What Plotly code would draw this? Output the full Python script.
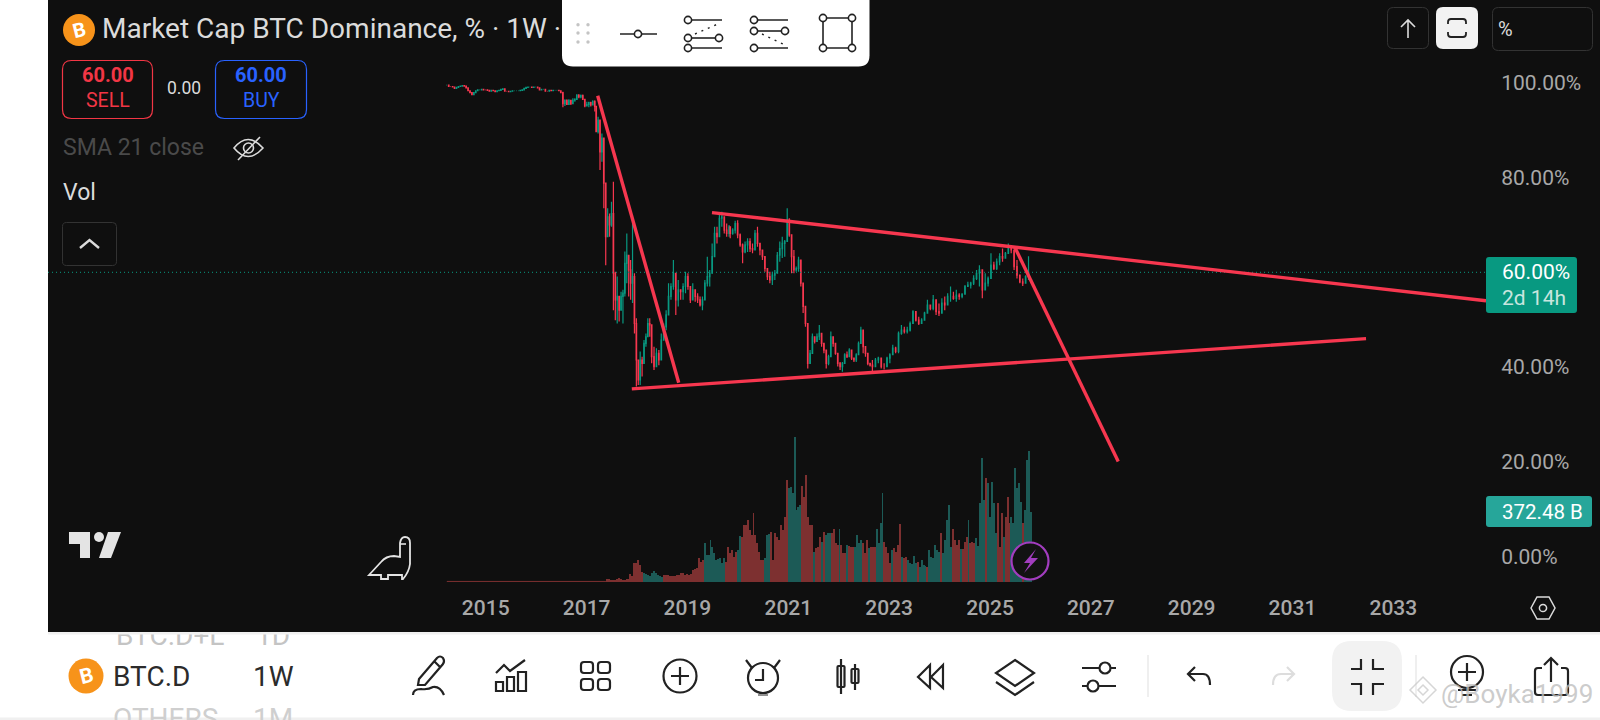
import re
import pandas as pd
import plotly.graph_objects as go

W, H = 1600, 720

# ---------- data ----------
flat_close = [99.5,99.2,99.2,99.1,98.8,99.0,99.2,99.3,99.4,99.3,98.9,98.3,97.9,97.5,97.9,98.3,98.5,98.5,98.6,98.5,
              98.5,98.4,98.2,98.4,98.3,98.1,98.3,98.4,98.6,98.7,98.2,98.2,98.1,98.2,98.3,98.3,98.3,98.3,98.4,98.5,
              98.8,99.0,99.1,99.1,99.0,99.1,99.1,98.9,98.5,98.6,98.6,98.2,98.2,98.4,98.3,98.4,98.4,98.4,98.3,97.9]
flat_span = ("2014-03-25", "2016-06-28")

a2_high = [98.1,96.5,96.5,96.5,96.3,96.7,96.7,97.6,97.6,97.5,97.5,96.2,96.0,96.0,96.0,96.3,96.3]
a2_low = [94.8,95.1,95.4,95.5,95.3,95.6,96.0,96.4,96.7,96.7,96.4,94.8,95.1,94.8,95.0,95.4,93.9]
a2_close = [95.6,96.2,95.4,96.3,95.6,96.3,96.5,97.3,97.0,97.3,96.5,95.1,95.4,95.8,95.3,96.0,95.0]
a2_span = ("2016-07-13", "2017-03-01")

b1_high = [92.8,92.8,90.4,89.3,81.6,78.8,73.5,72.4,74.9,79.1,60.1,59.1,54.9,55.9,56.3,64.4,68.2,63.3,62.6,70.7,
           59.8,50.3,41.5,43.3,42.2,45.7,47.1,50.3,50.3,48.9]
b1_low = [89.7,89.3,81.6,83.3,73.5,61.5,67.5,67.5,69.6,52.0,49.9,49.2,49.6,52.0,49.2,54.9,57.7,54.9,54.2,53.5,
          47.1,35.9,36.2,36.2,38.0,41.5,44.3,47.1,46.4,40.8]
b1_close = [89.7,92.1,85.4,88.3,78.8,67.5,71.7,70.0,72.4,59.8,54.2,54.9,52.0,54.9,55.6,61.9,63.6,60.5,57.7,59.1,
            49.2,41.5,37.3,41.5,40.8,45.0,46.4,49.2,48.9,42.2]
b1_span = ("2017-03-11", "2018-04-17")

b2_high = [44.3,44.0,43.6,47.1,49.2,52.0,57.7,57.7,62.6,57.7,
           58.4,56.3,57.7,60.1,59.8,56.3,57.7,55.9,55.6,54.9,54.9,58.4,63.3,60.5,66.1,69.6,69.6,72.4,72.8,71.4,70.3,70.0]
b2_low = [39.4,40.4,40.4,42.2,45.7,47.8,52.0,54.2,56.3,51.0,
          52.8,54.2,54.2,55.6,56.3,53.5,54.2,53.8,53.5,52.8,52.0,54.9,57.0,57.0,60.5,65.4,66.1,68.9,69.6,68.2,67.5,67.5]
b2_close = [40.1,42.9,41.5,45.7,48.5,51.0,54.9,57.0,59.8,54.2,
            56.3,55.9,57.0,59.1,57.0,54.2,56.3,54.9,54.2,53.1,54.2,57.7,59.1,59.8,63.3,68.2,67.5,71.4,71.7,68.9,68.2,69.6]
b2_span = ("2018-05-04", "2019-10-30")

c1_high = [68.9,69.3,70.9,71.0,68.2,66.1,66.5,67.2,67.2,66.1,68.9,69.6,65.0,64.7,63.0,60.8,60.1,60.1,60.5,64.3,66.5,67.5,66.8,73.5]
c1_low = [67.2,67.9,68.2,67.2,65.4,61.9,64.0,64.3,64.3,64.0,66.1,65.4,63.6,62.6,60.1,58.4,57.7,57.3,58.4,59.8,62.2,63.0,63.3,66.8]
c1_close = [68.2,68.9,70.3,67.9,65.8,64.3,65.8,66.5,65.0,64.7,68.2,66.1,64.7,63.3,60.8,59.1,58.4,59.4,59.8,63.6,65.0,66.1,66.5,71.0]
c1_span = ("2019-11-07", "2020-12-24")

c2_high = [71.4,65.0,64.7,61.2,63.3,62.6,57.0,51.7,48.9,43.6,47.1,46.1,47.1,48.9,46.8,44.3,42.9,42.6,47.5,46.4,
           44.3,42.2,41.1,41.1,42.9,43.3,44.0,42.9,41.9,42.9,45.4,48.5,44.7,43.6,42.6,40.8,41.5]
c2_low = [67.5,59.8,59.8,60.1,60.1,57.0,51.4,48.5,39.7,41.5,44.3,45.0,45.7,45.7,44.3,42.9,39.7,40.4,42.9,44.3,
          42.6,40.1,39.4,39.0,41.1,41.9,42.6,41.5,41.1,41.1,42.6,45.0,42.9,42.2,40.4,40.1,38.8]
c2_close = [67.9,63.3,60.5,60.8,62.6,57.7,52.8,49.2,40.8,42.9,46.4,45.4,46.4,47.1,45.0,43.6,40.8,42.2,46.4,45.0,
            42.9,40.8,40.1,40.8,42.6,42.2,43.6,41.9,41.5,42.6,45.0,47.8,44.3,42.9,40.8,40.4,40.1]
c2_span = ("2021-01-08", "2022-09-02")

c3_high = [41.9,42.2,40.8,40.8,42.2,42.9,44.7,44.3,47.5,48.9,48.5,48.5,49.6,52.0,50.6,50.6,50.3,51.7,54.2,53.1,
           55.2,53.8,53.4,54.5,54.9,55.6,57.0,55.9,56.3,55.6,55.6,57.3,58.0,58.0,59.4,60.5,61.5,58.7,59.8,59.1,
           64.0,62.2,62.9,64.0,65.0,64.3,66.1,65.4,64.7,62.6,59.1,58.7,59.4,63.4]
c3_low = [40.4,40.8,39.7,39.5,40.4,40.8,42.9,42.9,42.9,46.8,47.1,47.1,47.5,49.6,49.6,48.9,49.2,49.9,51.4,52.0,
          52.0,51.0,50.8,51.4,52.0,53.1,53.8,54.2,53.8,54.2,54.5,55.6,57.0,56.6,57.3,58.4,57.0,54.5,56.6,57.0,
          58.7,60.5,60.5,61.5,62.2,63.0,64.0,64.0,60.5,58.7,57.7,57.1,58.0,58.4]
c3_close = [41.5,41.9,40.1,40.1,41.9,42.6,44.0,43.3,47.1,47.8,47.5,47.8,49.2,51.7,49.9,49.2,49.9,51.4,53.1,52.4,
            54.2,51.7,51.4,53.5,53.1,54.9,54.9,54.5,55.2,54.9,55.4,57.0,57.3,57.7,58.7,59.8,60.5,56.3,57.7,58.7,
            61.5,60.8,62.2,63.3,63.0,64.0,65.4,64.7,61.2,59.4,58.0,57.7,59.1,60.0]
c3_span = ("2022-09-24", "2025-10-07")

volume_b = [14,14,11,11,11,18,20,14,13,11,16,18,43,32,100,103,117,91,55,50,43,37,32,46,61,46,37,32,29,37,39,36,32,32,32,32,36,37,46,46,
            37,43,39,43,64,69,73,126,108,117,206,144,144,224,188,156,117,121,126,103,126,108,185,153,170,135,162,170,245,241,304,304,330,277,250,365,250,206,162,117,
            117,126,250,256,266,117,259,241,224,302,277,348,543,498,507,472,770,383,401,410,511,454,569,348,304,304,162,179,188,241,215,268,250,259,259,259,280,206,197,280,
            197,153,153,197,192,188,185,188,250,210,224,206,153,224,179,185,185,188,280,206,312,472,215,188,153,100,170,179,162,197,309,135,126,135,117,100,96,139,103,108,
            82,117,91,87,82,170,135,126,197,170,162,259,153,224,330,410,188,280,224,197,224,174,174,215,241,330,206,215,206,233,192,419,662,436,552,525,348,534,419,259,
            419,188,365,241,348,454,312,348,312,605,498,525,428,312,383,649,697,372.48]
volume_span = ("2017-05-28", "2025-10-25")
volume_runs = [(19,"d"),(10,"u"),(21,"d"),(11,"u"),(6,"d"),(2,"u"),(4,"d"),(8,"d"),(3,"u"),(2,"d"),(7,"d"),(7,"u"),(6,"d"),(1,"u"),(3,"d"),(1,"u"),(1,"d"),
               (3,"u"),(4,"d"),(1,"u"),(3,"d"),(1,"u"),(3,"d"),(4,"u"),(3,"d"),(1,"u"),(3,"d"),(4,"u"),(4,"d"),(1,"u"),(4,"d"),(1,"u"),(2,"d"),
               (5,"u"),(1,"d"),(4,"u"),(1,"d"),(6,"u"),(1,"d"),(5,"u"),(4,"d"),(1,"u"),(3,"d"),(1,"u"),(3,"d"),(5,"u"),(1,"d"),(5,"u"),(3,"d"),(1,"u"),(3,"d"),
               (6,"u"),(1,"d"),(5,"u"),(1,"d"),(5,"u"),(7,"d"),(4,"u")]
early_volume_x = ["2014-03-25", "2017-05-21"]
early_volume = [3, 3]

trend_lines = [
    (["2017-03-22", "2018-10-30"], [97.26, 36.7]),
    (["2017-11-24", "2032-06-17"], [35.4, 46.0]),
    (["2019-06-28", "2034-11-03"], [72.6, 54.0]),
    (["2025-06-28", "2027-07-19"], [65.4, 20.1]),
]
last_price = 60.0
x_years = ["2015","2017","2019","2021","2023","2025","2027","2029","2031","2033"]
y_ticks = [100, 80, 40, 20, 0]
y_labels = ["100.00%","80.00%","40.00%","20.00%","0.00%"]

# ---------- colours ----------
DARK = "#0f0f0f"; UP = "#089981"; DOWN = "#f7374f"; LINE = "#f7374f"
VUP = "#1c5a56"; VDOWN = "#7d3030"; FG = "#dbdbdb"; AXIS = "#a8a8a8"; INK = "#222222"

def span(sp, n):
    return list(pd.date_range(sp[0], sp[1], periods=n))

dates = (span(flat_span, len(flat_close)) + span(a2_span, len(a2_close)) + span(b1_span, len(b1_close)) + span(b2_span, len(b2_close)) +
         span(c1_span, len(c1_close)) + span(c2_span, len(c2_close)) + span(c3_span, len(c3_close)))
closes = flat_close + a2_close + b1_close + b2_close + c1_close + c2_close + c3_close
opens = [closes[0]] + closes[:-1]
highs = [max(o, c) for o, c in zip(opens[:len(flat_close)], flat_close)] + a2_high + b1_high + b2_high + c1_high + c2_high + c3_high
lows = [min(o, c) for o, c in zip(opens[:len(flat_close)], flat_close)] + a2_low + b1_low + b2_low + c1_low + c2_low + c3_low
# keep bodies inside the wicks
highs = [max(h, o, c) for h, o, c in zip(highs, opens, closes)]
lows = [min(l, o, c) for l, o, c in zip(lows, opens, closes)]

sides = "".join(s * n for n, s in volume_runs)
sides = (sides + "u" * len(volume_b))[:len(volume_b)]
vol_colors = [VUP if s == "u" else VDOWN for s in sides]

fig = go.Figure()
fig.add_trace(go.Bar(x=span(volume_span, len(volume_b)), y=volume_b, marker=dict(color=vol_colors, line_width=0), yaxis="y2", xaxis="x", showlegend=False))
fig.add_trace(go.Scatter(x=early_volume_x, y=early_volume, mode="lines", line=dict(color=VDOWN, width=1), yaxis="y2", showlegend=False))
fig.add_trace(go.Scatter(x=["2006-04-27", "2034-11-03"], y=[last_price, last_price], mode="lines",
                         line=dict(color=UP, width=1, dash="1px,3px"), showlegend=False))
fig.add_trace(go.Candlestick(x=dates, open=opens, high=highs, low=lows, close=closes, showlegend=False, whiskerwidth=0,
                             increasing=dict(line=dict(color=UP, width=1.2), fillcolor=UP),
                             decreasing=dict(line=dict(color=DOWN, width=1.2), fillcolor=DOWN)))
for xs, ys in trend_lines:
    fig.add_trace(go.Scatter(x=xs, y=ys, mode="lines", line=dict(color=LINE, width=3.4), showlegend=False))

# ---------- chrome helpers (pixel positions of the app's interface, not data) ----------
shapes, notes = [], []
def fx(x): return x / W
def fy(y): return 1 - y / H
def rect(x0, y0, x1, y1, fill=None, line=None, lw=1, r=0, layer="above"):
    if r:
        d = (f"M{x0+r} {y0} L{x1-r} {y0} Q{x1} {y0} {x1} {y0+r} L{x1} {y1-r} Q{x1} {y1} {x1-r} {y1} "
             f"L{x0+r} {y1} Q{x0} {y1} {x0} {y1-r} L{x0} {y0+r} Q{x0} {y0} {x0+r} {y0} Z")
        path(d, fill=fill, line=line, lw=lw, layer=layer)
    else:
        shapes.append(dict(type="rect", xref="paper", yref="paper", x0=fx(x0), x1=fx(x1), y0=fy(y0), y1=fy(y1), layer=layer,
                           fillcolor=fill or "rgba(0,0,0,0)", line=dict(color=line or "rgba(0,0,0,0)", width=lw if line else 0)))
def path(d, fill=None, line=None, lw=1.5, layer="above"):
    nums = iter(re.findall(r"[A-Za-z]|-?\d+\.?\d*", d))
    out = []
    for t in nums:
        if t.isalpha():
            out.append(t)
        else:
            out.append(f"{fx(float(t)):.5f},{fy(float(next(nums))):.5f}")
    shapes.append(dict(type="path", xref="paper", yref="paper", path=" ".join(out), layer=layer,
                       fillcolor=fill or "rgba(0,0,0,0)", line=dict(color=line or "rgba(0,0,0,0)", width=lw if line else 0)))
def circ(cx, cy, r, fill=None, line=None, lw=1.5, layer="above"):
    shapes.append(dict(type="circle", xref="paper", yref="paper", x0=fx(cx-r), x1=fx(cx+r), y0=fy(cy-r), y1=fy(cy+r), layer=layer,
                       fillcolor=fill or "rgba(0,0,0,0)", line=dict(color=line or "rgba(0,0,0,0)", width=lw if line else 0)))
def txt(x, y, s, size, color, anchor="left", weight=400, angle=0, fam="Roboto"):
    notes.append(dict(xref="paper", yref="paper", x=fx(x), y=fy(y), text=s, showarrow=False, xanchor=anchor, yanchor="middle",
                      textangle=angle, font=dict(family=fam, size=size, color=color, weight=weight), borderpad=0, borderwidth=0))
def clipped_label(x, y, s, size, color):
    # text that slides under the dark pane: a shape label, drawn before the pane
    shapes.append(dict(type="rect", xref="paper", yref="paper", x0=fx(x), x1=fx(x+130), y0=fy(y-12), y1=fy(y+12), layer="below",
                       fillcolor="rgba(0,0,0,0)", line=dict(width=0),
                       label=dict(text=s, textposition="middle left", padding=0, font=dict(family="Roboto", size=size, color=color))))

# labels under the pane first
clipped_label(113, 633, "BTC.D+L", 28, "#c4c4c4")
clipped_label(253, 633, "1D", 28, "#c4c4c4")
# panes
rect(48, 0, 1600, 632, fill=DARK, layer="below")
rect(48, 632, 1600, 634.5, fill="#f0f0f0", layer="below")

# header
circ(79, 30, 16, fill="#f7931a")
txt(79, 30, "B", 20, "#ffffff", "center", 700, -14)
txt(102, 29, "Market Cap BTC Dominance, % · 1W ·", 28, FG)
rect(62.5, 60.5, 152.5, 118.5, line="#f23645", lw=1.2, r=9)
rect(215.5, 60.5, 306.5, 118.5, line="#2962ff", lw=1.2, r=9)
txt(107.5, 75.5, "60.00", 20, "#f23645", "center", 700)
txt(107.5, 101, "SELL", 19.5, "#f23645", "center")
txt(184, 88, "0.00", 17.5, FG, "center")
txt(261, 75.5, "60.00", 20, "#2962ff", "center", 700)
txt(261, 101, "BUY", 19.5, "#2962ff", "center")
txt(63, 148, "SMA 21 close", 23, "#4a4a4a")
path("M234 148 Q248 131 263 148 Q248 165 234 148 Z", line=FG, lw=1.6)
circ(248.5, 148, 5, line=FG, lw=1.6)
path("M238 160 L260 137", line=FG, lw=1.6)
txt(63, 193, "Vol", 23, FG)
rect(62.5, 222.5, 116.5, 265.5, line="#333333", lw=1, r=4)
path("M80 248 L89.5 240 L99 248", line=FG, lw=2.4)

# drawing toolbar
rect(562, -12, 869.5, 66.5, fill="#ffffff", r=11)
for dx in (578, 588):
    for dy in (24.7, 33, 42):
        circ(dx, dy, 1.7, fill="#c4c4c4")
def knob(x, y): circ(x, y, 3.6, fill="#ffffff", line=INK, lw=1.6)
def bar(d): path(d, line=INK, lw=1.6)
bar("M620 34 L657 34"); knob(638, 34)
bar("M688 20 L722 20"); bar("M688 38 L719 38"); bar("M688 48 L722 48")
shapes.append(dict(type="line", xref="paper", yref="paper", x0=fx(695), y0=fy(34), x1=fx(720), y1=fy(23), line=dict(color=INK, width=1.4, dash="2px,5px"), layer="above"))
knob(688, 20); knob(688, 38); knob(719, 38); knob(688, 48)
bar("M754 20 L788 20"); bar("M754 31 L785 31"); bar("M754 48 L788 48")
shapes.append(dict(type="line", xref="paper", yref="paper", x0=fx(762), y0=fy(34), x1=fx(785), y1=fy(45), line=dict(color=INK, width=1.4, dash="2px,5px"), layer="above"))
knob(754, 20); knob(754, 31); knob(785, 31); knob(754, 48)
bar("M823 18 L852 18 L852 48 L823 48 Z")
for cx, cy in ((823, 18), (852, 18), (852, 48), (823, 48)):
    knob(cx, cy)

# scale buttons
rect(1387.5, 7.5, 1428.5, 48.5, line="#333333", r=6)
path("M1408 38 L1408 20 M1401 27 L1408 20 L1415 27", line=FG, lw=1.6)
rect(1436, 7, 1478, 49, fill="#f2f2f2", r=7)
path("M1448 24 L1448 22 Q1448 19 1451 19 L1463 19 Q1466 19 1466 22 L1466 24 M1448 32 L1448 34 Q1448 37 1451 37 L1463 37 Q1466 37 1466 34 L1466 32", line=INK, lw=1.8)
rect(1492.5, 7.5, 1592.5, 50.5, line="#333333", r=6)
txt(1498, 29, "%", 20, FG)

# price labels
rect(1486, 257, 1577, 313, fill=UP, r=3)
txt(1501.5, 272, "60.00%", 21, "#ffffff")
txt(1501.5, 298, "2d 14h", 21, "#c8e6df")
rect(1486, 496, 1592, 527, fill="#26a69a", r=3)
txt(1501.5, 512, "372.48 B", 20.5, "#ffffff")

# logo, dino, bolt, settings
path("M69 532 L90 532 L90 558 L80 558 L80 544 L69 544 Z", fill="#e4e4e4")
circ(99, 537, 5, fill="#e4e4e4")
path("M108 532 L121 532 L111 558 L99 558 Z", fill="#e4e4e4")
path("M369 575 L381 562 Q386 556 394 556 L400 557 L400 543 Q401 537 405 537 Q410 537 410 543 L410 564 Q409 572 403 579 L402 579 L402 575 L388 575 L388 579 L381 579 L381 575 Z", line="#e4e4e4", lw=1.8)
path("M400 544 L406 544", line="#e4e4e4", lw=1.6)
circ(1030, 561, 18.5, fill="#121212", line="#a23dbf", lw=2.2)
path("M1036 549 L1024 563 L1030 563 L1024 573 L1038 558 L1031 558 Z", fill="#a23dbf")
path("M1531 608 L1537 597 L1549 597 L1555 608 L1549 619 L1537 619 Z", line=FG, lw=1.5)
circ(1543, 608, 3.6, line=FG, lw=1.5)

# bottom bar
circ(86, 676, 17.5, fill="#f7931a")
txt(86, 676, "B", 21, "#ffffff", "center", 700, -14)
txt(113, 676, "BTC.D", 28, "#2b2b2b")
txt(253, 676, "1W", 28, "#2b2b2b")
txt(113, 718, "OTHERS", 28, "#cfcfcf")
txt(253, 718, "1M", 28, "#cfcfcf")
rect(0, 717.5, 1600, 720, fill="#f0f0f0")
ic = dict(line=INK, lw=2.2)
path("M419 679 L437 658 Q440 655 443 658 Q445 661 443 664 L425 685 L418 685 Z M434 661 L440 667", **ic)
path("M413 695 Q413 689 421 689 Q428 690 433 687 Q440 686 444 695", **ic)
path("M496 673 L504 665 L510 671 L525 660", **ic)
path("M496 691 L496 682 L503 682 L503 691 Z M507 691 L507 677 L514 677 L514 691 Z M518 691 L518 672 L526 672 L526 691 Z", **ic)
for gx, gy in ((581, 662), (598, 662), (581, 679), (598, 679)):
    rect(gx, gy, gx + 12, gy + 11, line=INK, lw=2.2, r=3)
circ(680, 676, 16.5, **ic); path("M671 676 L689 676 M680 667 L680 685", **ic)
circ(763, 678, 15, **ic); path("M763 669 L763 680 L755 680", **ic); path("M746 660 L752 668 M780 660 L774 668 ", **ic); path("M758 695 L768 695", line=INK, lw=1)
path("M841 659 L841 694 M855 664 L855 690", **ic); rect(837.5, 666, 844.5, 687, line=INK, lw=2.2, r=1); rect(851.5, 669, 858.5, 683, line=INK, lw=2.2, r=1)
path("M930 665 L918 677 L930 688 Z M943 665 L931 677 L943 688 Z", **ic)
path("M1015 660 L1034 673 L1015 686 L996 673 Z", **ic); path("M996 682 L1015 695 L1034 682", **ic)
path("M1082 668 L1100 668 M1110 668 L1116 668 M1082 686 L1088 686 M1098 686 L1116 686", **ic); circ(1105, 668, 5.5, **ic); circ(1093, 686, 5.5, **ic)
path("M1148 655 L1148 697", line="#eaeaea", lw=1.5)
path("M1195 667 L1188 674 L1195 681 M1188 674 L1203 674 Q1210 674 1210 685", **ic)
path("M1287 667 L1294 674 L1287 681 M1294 674 L1281 674 Q1273 674 1273 685", line="#dddddd", lw=2.2)
rect(1332, 641, 1402, 711, fill="#f2f2f2", r=20)
path("M1361 659 L1361 669 L1351 669 M1373 659 L1373 669 L1384 669 M1351 684 L1361 684 L1361 695 M1384 684 L1373 684 L1373 695", **ic)
path("M1416 655 L1416 697", line="#eaeaea", lw=1.5)
circ(1467, 672, 16, **ic); path("M1458 672 L1476 672 M1467 663 L1467 681", **ic); path("M1458 690 L1476 690 M1462 695 L1472 695", **ic)
path("M1542 668 L1538 668 Q1535 668 1535 671 L1535 692 Q1535 695 1538 695 L1565 695 Q1568 695 1568 692 L1568 671 Q1568 668 1565 668 L1561 668 M1551 682 L1551 658 M1544 665 L1551 658 L1558 665", **ic)
# watermark
path("M1423 677 L1436 690 L1423 703 L1410 690 Z M1423 685 L1428 690 L1423 695 L1418 690 Z", line="rgba(200,200,200,0.75)", lw=1.5)
txt(1441, 694, "@Boyka1999", 26, "rgba(190,190,190,0.8)")

fig.update_layout(
    width=W, height=H, autosize=False, margin=dict(l=0, r=0, t=0, b=0, pad=0),
    paper_bgcolor="#ffffff", plot_bgcolor="rgba(0,0,0,0)", showlegend=False, bargap=0, barmode="overlay",
    shapes=shapes, annotations=notes, hovermode=False, dragmode=False,
    xaxis=dict(domain=[fx(48), fx(1486)], range=["2006-04-27", "2034-11-03"], type="date", showgrid=False, zeroline=False, showline=False,
               rangeslider=dict(visible=False), tickmode="array", tickvals=[f"{y}-01-01" for y in x_years], ticktext=x_years,
               ticks="outside", ticklen=7, tickcolor="rgba(0,0,0,0)", anchor="y",
               tickfont=dict(family="Roboto", size=21, color=AXIS, weight=500)),
    yaxis=dict(domain=[fy(582), 1], range=[-5.34, 117.45], side="right", showgrid=False, zeroline=False, showline=False,
               tickmode="array", tickvals=y_ticks, ticktext=y_labels, ticks="outside", ticklen=10, tickcolor="rgba(0,0,0,0)",
               anchor="x", tickfont=dict(family="Roboto", size=21, color=AXIS)),
    yaxis2=dict(domain=[fy(582), 1], range=[0, 3096], overlaying="y", visible=False, side="right", anchor="x"),
)
fig.write_html("out.html", config=dict(displayModeBar=False, staticPlot=True),
               post_script="document.body.style.margin='0';document.documentElement.style.overflow='hidden';")
